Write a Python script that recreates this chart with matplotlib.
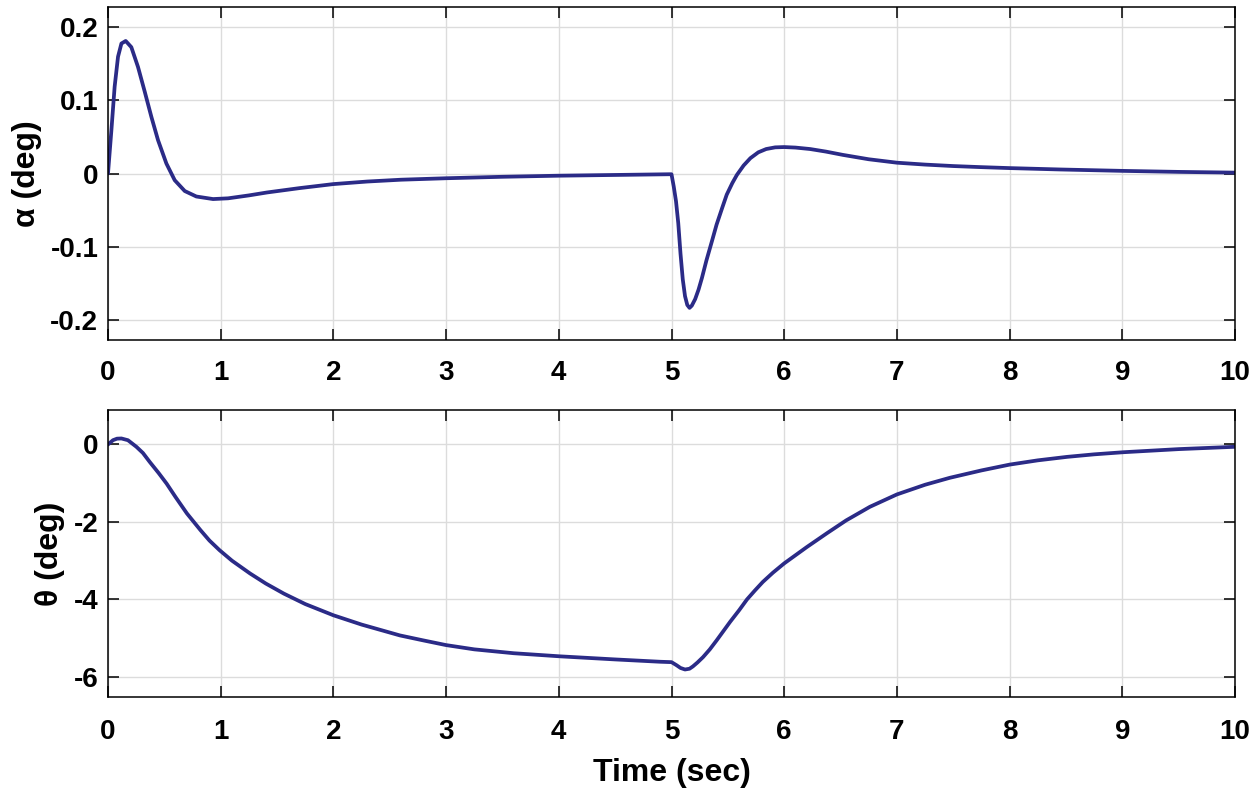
import matplotlib
matplotlib.use("Agg")
import matplotlib.pyplot as plt

# ---- data ----
t_alpha = [0, 0.03, 0.059, 0.089, 0.119, 0.157, 0.207, 0.266, 0.326, 0.385, 0.444, 0.518,
           0.592, 0.681, 0.784, 0.932, 1.065, 1.25, 1.41, 1.7, 2.0, 2.3, 2.6, 3.0, 3.5,
           4.0, 4.5, 4.99, 5.0, 5.02, 5.04, 5.06, 5.08, 5.10, 5.12, 5.14, 5.16, 5.18, 5.21,
           5.24, 5.27, 5.31, 5.36, 5.40, 5.45, 5.49, 5.54, 5.58, 5.64, 5.70, 5.77, 5.84,
           5.92, 6.0, 6.1, 6.23, 6.37, 6.52, 6.75, 7.0, 7.25, 7.5, 7.75, 8.0, 8.45, 9.0,
           9.5, 10.0]
alpha = [0, 0.059, 0.119, 0.160, 0.178, 0.1815, 0.173, 0.146, 0.112, 0.0775, 0.0456,
         0.0137, -0.0092, -0.024, -0.0315, -0.035, -0.034, -0.030, -0.026, -0.020, -0.0145,
         -0.011, -0.0085, -0.0065, -0.0045, -0.003, -0.002, -0.001, -0.001, -0.018,
         -0.038, -0.068, -0.110, -0.145, -0.168, -0.180, -0.184, -0.181, -0.172, -0.159,
         -0.143, -0.119, -0.092, -0.070, -0.047, -0.029, -0.013, -0.002, 0.011, 0.021,
         0.029, 0.0335, 0.0358, 0.0362, 0.0355, 0.0335, 0.030, 0.0255, 0.0195, 0.0148,
         0.0122, 0.0102, 0.0087, 0.0074, 0.0055, 0.0036, 0.0022, 0.0012]

t_theta = [0, 0.044, 0.08, 0.119, 0.177, 0.252, 0.31, 0.37, 0.45, 0.52, 0.6, 0.7, 0.82,
           0.9, 0.99, 1.1, 1.26, 1.4, 1.56, 1.75, 2.0, 2.25, 2.59, 2.8, 3.0, 3.25, 3.6,
           4.01, 4.5, 4.9, 5.0, 5.045, 5.08, 5.12, 5.16, 5.19, 5.23, 5.28, 5.34, 5.40, 5.46,
           5.52, 5.60, 5.67, 5.74, 5.81, 5.9, 6.0, 6.1, 6.2, 6.38, 6.55, 6.76, 7.0, 7.25,
           7.47, 7.75, 8.0, 8.25, 8.51, 8.75, 9.01, 9.5, 10.0]
theta = [0.0, 0.11, 0.15, 0.155, 0.11, -0.06, -0.22, -0.45, -0.74, -1.01, -1.36, -1.78,
         -2.21, -2.48, -2.73, -3.0, -3.33, -3.59, -3.85, -4.12, -4.41, -4.65, -4.93, -5.06,
         -5.18, -5.29, -5.39, -5.47, -5.55, -5.61, -5.62, -5.70, -5.77, -5.81, -5.79,
         -5.73, -5.63, -5.49, -5.29, -5.06, -4.82, -4.58, -4.28, -4.00, -3.77, -3.55,
         -3.31, -3.07, -2.86, -2.65, -2.29, -1.96, -1.61, -1.29, -1.04, -0.86, -0.67,
         -0.52, -0.41, -0.32, -0.255, -0.20, -0.12, -0.06]

x_ticks = [0, 1, 2, 3, 4, 5, 6, 7, 8, 9, 10]
alpha_ticks = [-0.2, -0.1, 0, 0.1, 0.2]
alpha_ticklabels = ["-0.2", "-0.1", "0", "0.1", "0.2"]
theta_ticks = [-6, -4, -2, 0]
theta_ticklabels = ["-6", "-4", "-2", "0"]

# ---- style ----
plt.rcParams['font.family'] = ['Liberation Sans', 'DejaVu Sans']
plt.rcParams['font.weight'] = 'bold'
plt.rcParams['axes.unicode_minus'] = False

line_color = '#2b2b87'
grid_color = '#dcdcdc'

fig = plt.figure(figsize=(12.6, 7.98), dpi=100)
ax1 = fig.add_axes([108/1260, 1-340/798, (1235-108)/1260, (340-7)/798])
ax2 = fig.add_axes([108/1260, 1-697/798, (1235-108)/1260, (697-410)/798])


def style(ax, xpad):
    ax.set_xlim(0, 10)
    ax.set_xticks(x_ticks)
    ax.set_xticklabels([str(v) for v in x_ticks])
    ax.grid(True, color=grid_color, linewidth=1.0)
    ax.set_axisbelow(True)
    ax.tick_params(direction='in', length=8, width=1.1, top=True, right=True,
                   labelsize=20)
    ax.tick_params(axis='x', pad=xpad)
    ax.tick_params(axis='y', pad=7)
    for s in ax.spines.values():
        s.set_linewidth(1.1)
        s.set_color('black')
    for lab in ax.get_xticklabels() + ax.get_yticklabels():
        lab.set_fontweight('bold')


ax1.plot(t_alpha, alpha, color=line_color, linewidth=2.7, solid_capstyle='round',
         solid_joinstyle='round')
ax1.set_ylim(-0.228, 0.228)
ax1.set_yticks(alpha_ticks)
ax1.set_yticklabels(alpha_ticklabels)
style(ax1, 14.5)
ax1.set_ylabel('α (deg)', fontsize=23, fontweight='bold', labelpad=6)

ax2.plot(t_theta, theta, color=line_color, linewidth=2.7, solid_capstyle='round',
         solid_joinstyle='round')
ax2.set_ylim(-6.52, 0.89)
ax2.set_yticks(theta_ticks)
ax2.set_yticklabels(theta_ticklabels)
style(ax2, 15.5)
ax2.set_ylabel('θ (deg)', fontsize=23, fontweight='bold', labelpad=6)
ax2.set_xlabel('Time (sec)', fontsize=23, fontweight='bold', labelpad=10)

fig.savefig('out.png', dpi=100)
